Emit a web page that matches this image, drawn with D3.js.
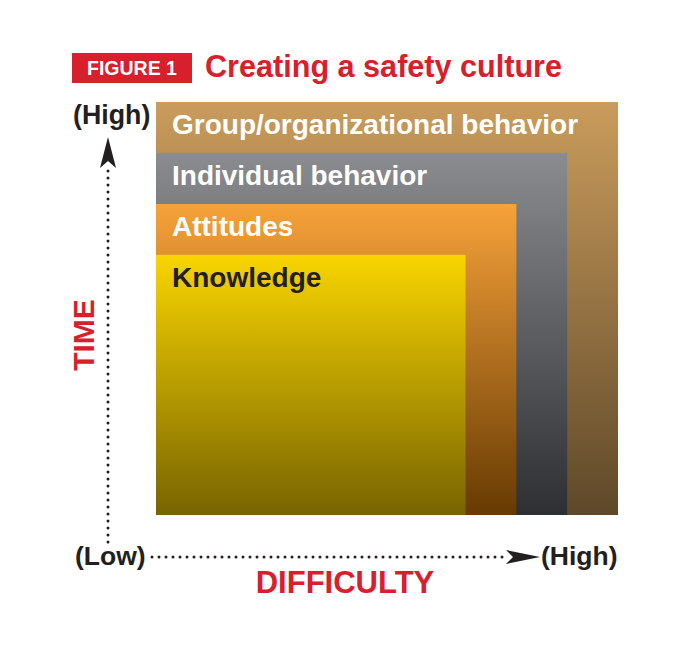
<!DOCTYPE html>
<html>
<head>
<meta charset="utf-8">
<script src="https://cdn.jsdelivr.net/npm/d3@7"></script>
<style>
  body { margin: 0; background: #fff; }
  text { font-family: "Liberation Sans", Arial, sans-serif; font-weight: bold; }
</style>
</head>
<body>
<div id="chart"></div>
<script>
// stages of a safety culture, biggest (hardest / longest) first
const stages = ["Group/organizational behavior", "Individual behavior", "Attitudes", "Knowledge"];
// relative difficulty and time for each stage (0-100)
const difficulty = [100, 89, 78, 67];
const time = [100, 87.7, 75.3, 63];
// gradient top / bottom colours per stage
const topColors = ["#ca9c5c", "#8b8c8f", "#f7a23a", "#f9d500"];
const bottomColors = ["#5e4829", "#2d2f33", "#663a02", "#786400"];
const labelColors = ["#fff", "#fff", "#fff", "#231f20"];

const w = 700, h = 659;
const red = "#d7202b", ink = "#231f20";

const svg = d3.select("#chart").append("svg").attr("width", w).attr("height", h);
const defs = svg.append("defs");

// difficulty along x, time up the y
const x = d3.scaleLinear().domain([0, 100]).range([156, 618]);
const y = d3.scaleLinear().domain([0, 100]).range([515, 102]);

// one vertical gradient per box
stages.forEach((s, i) => {
  const gr = defs.append("linearGradient").attr("id", "grad" + i)
    .attr("x1", 0).attr("y1", 0).attr("x2", 0).attr("y2", 1);
  gr.append("stop").attr("offset", "0%").attr("stop-color", topColors[i]);
  gr.append("stop").attr("offset", "100%").attr("stop-color", bottomColors[i]);
});

// nested boxes, all sharing the low/low corner
svg.append("g").selectAll("rect").data(stages).join("rect")
  .attr("x", x(0))
  .attr("y", (d, i) => y(time[i]))
  .attr("width", (d, i) => x(difficulty[i]) - x(0))
  .attr("height", (d, i) => y(0) - y(time[i]))
  .attr("fill", (d, i) => `url(#grad${i})`);

svg.append("g").selectAll("text").data(stages).join("text")
  .attr("x", x(0) + 16)
  .attr("y", (d, i) => y(time[i]) + 32)
  .attr("font-size", 28)
  .attr("fill", (d, i) => labelColors[i])
  .text(d => d);

// title bar
svg.append("rect").attr("x", 72).attr("y", 53).attr("width", 120).attr("height", 30).attr("fill", red);
svg.append("text").attr("x", 132).attr("y", 75).attr("text-anchor", "middle")
  .attr("font-size", 19.5).attr("fill", "#fff").text("FIGURE 1");
svg.append("text").attr("x", 205).attr("y", 77).attr("font-size", 30.6)
  .attr("fill", red).text("Creating a safety culture");

// dotted axes
const ax = 108, ay = 557;
svg.append("line").attr("x1", ax).attr("x2", ax).attr("y1", 542).attr("y2", 168)
  .attr("stroke", ink).attr("stroke-width", 3).attr("stroke-linecap", "round")
  .attr("stroke-dasharray", "0 7");
svg.append("line").attr("x1", 152).attr("x2", 506).attr("y1", ay).attr("y2", ay)
  .attr("stroke", ink).attr("stroke-width", 3).attr("stroke-linecap", "round")
  .attr("stroke-dasharray", "0 7");

// arrow heads (notched)
svg.append("path").attr("fill", ink)
  .attr("d", `M${ax},137 L${ax + 8},168 L${ax},161 L${ax - 8},168 Z`);
svg.append("path").attr("fill", ink)
  .attr("d", `M540,${ay} L506,${ay - 7} L513,${ay} L506,${ay + 7} Z`);

// axis end labels
svg.append("text").attr("x", 73).attr("y", 124).attr("font-size", 26.8).attr("fill", ink).text("(High)");
svg.append("text").attr("x", 75).attr("y", 565).attr("font-size", 26.5).attr("fill", ink).text("(Low)");
svg.append("text").attr("x", 541).attr("y", 565).attr("font-size", 26.5).attr("fill", ink).text("(High)");

svg.append("text").attr("x", 345).attr("y", 593).attr("text-anchor", "middle")
  .attr("font-size", 31).attr("fill", red).text("DIFFICULTY");
svg.append("text").attr("transform", "translate(94,335) rotate(-90)").attr("text-anchor", "middle")
  .attr("font-size", 30).attr("fill", red).text("TIME");
</script>
</body>
</html>
